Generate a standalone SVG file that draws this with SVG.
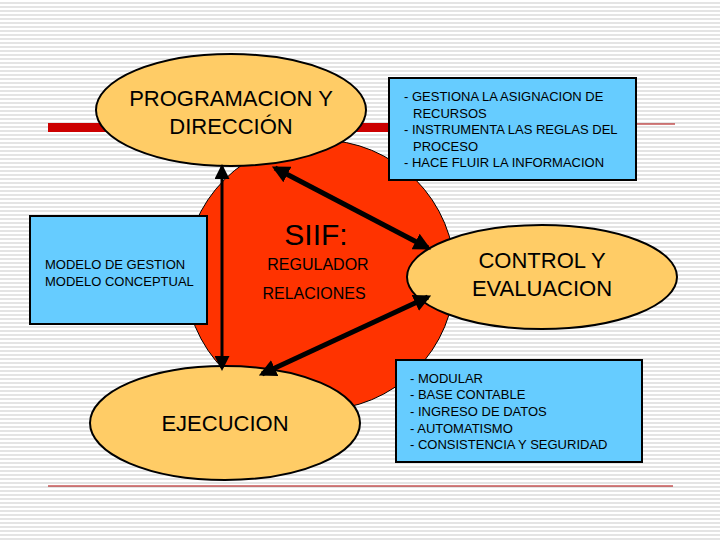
<svg xmlns="http://www.w3.org/2000/svg" width="720" height="540" viewBox="0 0 720 540">
<defs>
<pattern id="bg" width="4" height="4" patternUnits="userSpaceOnUse"><rect width="4" height="4" fill="#fff"/><rect y="2" width="4" height="2" fill="#e4e4e4"/></pattern>
<marker id="ah" viewBox="0 0 10 10" refX="8" refY="5" markerWidth="3.5" markerHeight="3.5" orient="auto-start-reverse"><path d="M0,0 L10,5 L0,10 z" fill="#000"/></marker>
<marker id="ahs" viewBox="0 0 10 10" refX="8" refY="5" markerWidth="5" markerHeight="5" orient="auto-start-reverse"><path d="M0,0 L10,5 L0,10 z" fill="#000"/></marker>
</defs>
<style>
.ell{fill:#ffcc66;stroke:#000;stroke-width:2}
.box{fill:#66ccff;stroke:#000;stroke-width:2}
text{font-family:"Liberation Sans",Arial,sans-serif;fill:#000}
.big{font-size:22px;text-anchor:middle}
.sm{font-size:13px}
.con{stroke:#000;fill:none}
</style>
<rect width="720" height="540" fill="url(#bg)"/>
<rect x="48" y="123" width="350" height="9" fill="#cc0000"/>
<line x1="398" y1="124" x2="675" y2="124" stroke="#aa0000" stroke-width="1"/>
<line x1="48" y1="486" x2="673" y2="486" stroke="#aa0000" stroke-width="1"/>
<circle id="siif" cx="320" cy="275" r="135" fill="#ff3300" stroke="#000" stroke-width="1"/>
<g id="siif-text">
<text x="316" y="245" font-size="30" text-anchor="middle">SIIF:</text>
<text x="318" y="270" font-size="16" text-anchor="middle">REGULADOR</text>
<text x="314" y="299" font-size="16" text-anchor="middle">RELACIONES</text>
</g>
<g id="programacion"><ellipse class="ell" cx="231" cy="110" rx="135" ry="56"/>
<text class="big" x="231" y="106">PROGRAMACION Y</text><text class="big" x="231" y="134">DIRECCIÓN</text></g>
<g id="control"><ellipse class="ell" cx="542" cy="277" rx="135" ry="52"/>
<text class="big" x="542" y="268">CONTROL Y</text><text class="big" x="542" y="296">EVALUACION</text></g>
<g id="ejecucion"><ellipse class="ell" cx="225" cy="423" rx="135" ry="57"/>
<text class="big" x="225" y="431">EJECUCION</text></g>
<g id="box-top"><rect class="box" x="389" y="78" width="247" height="102"/>
<text class="sm" x="404" y="101">- GESTIONA LA ASIGNACION DE</text>
<text class="sm" x="413" y="118">RECURSOS</text>
<text class="sm" x="404" y="134">- INSTRUMENTA LAS REGLAS DEL</text>
<text class="sm" x="413" y="151">PROCESO</text>
<text class="sm" x="404" y="167">- HACE FLUIR LA INFORMACION</text></g>
<g id="box-left"><rect class="box" x="30" y="216" width="177" height="108"/>
<text class="sm" x="45" y="269">MODELO DE GESTION</text>
<text class="sm" x="45" y="286">MODELO CONCEPTUAL</text></g>
<g id="box-bottom"><rect class="box" x="396" y="360" width="246" height="102"/>
<text class="sm" x="410" y="383">- MODULAR</text>
<text class="sm" x="410" y="399">- BASE CONTABLE</text>
<text class="sm" x="410" y="416">- INGRESO DE DATOS</text>
<text class="sm" x="410" y="433">- AUTOMATISMO</text>
<text class="sm" x="410" y="449">- CONSISTENCIA Y SEGURIDAD</text></g>
<g id="connectors">
<line class="con" x1="222" y1="167" x2="222" y2="368" stroke-width="3" marker-start="url(#ahs)" marker-end="url(#ahs)"/>
<line class="con" x1="275" y1="168" x2="428" y2="248" stroke-width="5" marker-start="url(#ah)" marker-end="url(#ah)"/>
<line class="con" x1="428" y1="297" x2="262" y2="374" stroke-width="5" marker-start="url(#ah)" marker-end="url(#ah)"/>
</g>
</svg>
